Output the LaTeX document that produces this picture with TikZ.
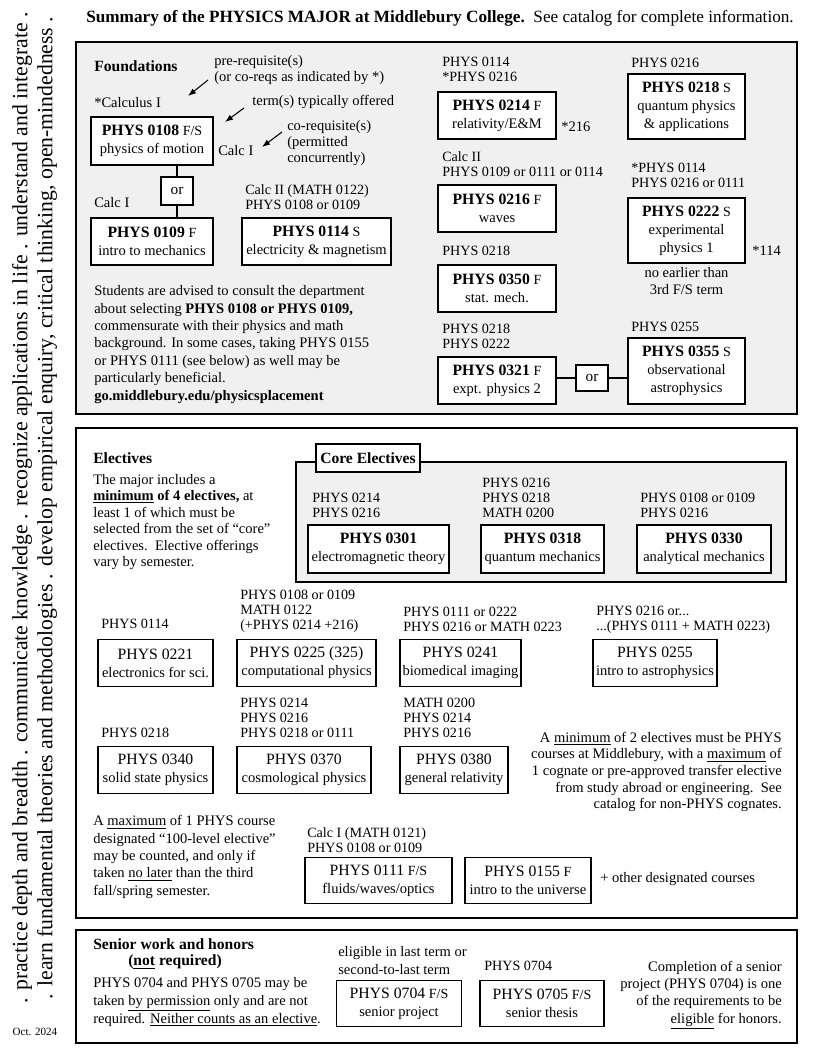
\documentclass[tikz,border=0pt]{standalone}
\usepackage{fontspec}
\setmainfont{Liberation Serif}
\usetikzlibrary{arrows.meta}
\definecolor{panelgray}{RGB}{240,240,240}
\newcommand{\bnum}[1]{{\fontsize{11.8}{13.5}\selectfont\textbf{#1}}}
\newcommand{\rnum}[1]{{\fontsize{11.8}{13.5}\selectfont #1}}
\newcommand{\term}[1]{{\fontsize{10.5}{13.5}\selectfont #1}}
\begin{document}
\begin{tikzpicture}[x=0.75pt,y=-0.75pt,
  txt/.style={font=\fontsize{10.9}{13}\selectfont,inner sep=0pt,align=left,anchor=west},
  pre/.style={font=\fontsize{10.6}{11.3}\selectfont,inner sep=0pt,align=left,anchor=west},
  fbox/.style={draw,line width=1.8pt,fill=white,align=center,inner sep=1pt,font=\fontsize{10.9}{13.5}\selectfont,minimum width=88.5pt,minimum height=35.25pt},
  ebox/.style={draw,line width=0.9pt,fill=white,align=center,inner sep=1pt,font=\fontsize{10.9}{13.5}\selectfont,minimum height=35pt},
  orbox/.style={draw,line width=0.9pt,fill=white,font=\fontsize{11.5}{13}\selectfont,minimum width=24pt,inner sep=0pt},
  head/.style={font=\fontsize{11.7}{14}\selectfont\bfseries,inner sep=0pt,anchor=west},
  note/.style={-{Latex[length=6pt,width=4.5pt]},line width=0.8pt}]
\useasboundingbox (0,0) rectangle (816,1056);

\node[font=\fontsize{12.9}{14}\selectfont,inner sep=0pt] (title) at (440,18) {\textbf{Summary of the PHYSICS MAJOR at Middlebury College.}\ \ See catalog for complete information.};
\node[rotate=90,font=\fontsize{16.3}{18}\selectfont,inner sep=0pt] (vals1) at (22,508) {. practice depth and breadth . communicate knowledge . recognize applications in life . understand and integrate .};
\node[rotate=90,font=\fontsize{16.3}{18}\selectfont,inner sep=0pt] (vals2) at (47,508) {. learn fundamental theories and methodologies . develop empirical enquiry, critical thinking, open-mindedness .};
\node[font=\fontsize{8.3}{9}\selectfont,inner sep=0pt] (date) at (35,1032) {Oct. 2024};

% foundations
\draw[line width=1pt,fill=panelgray] (76,42) rectangle (797,414);
\node[head] (fhead) at (94,66) {Foundations};
\node[txt,font=\fontsize{10.9}{12}\selectfont] (prelbl) at (214,70) {pre-requisite(s)\\(or co-reqs as indicated by *)};
\coordinate (preFrom) at (208,80); \coordinate (preTo) at (188,96);
\draw[note] (preFrom) -- (preTo);
\node[txt] (calc1a) at (94,103) {*Calculus I};
\node[txt] (termlbl) at (252,102) {term(s) typically offered};
\coordinate (termFrom) at (244,108); \coordinate (termTo) at (225,122);
\draw[note] (termFrom) -- (termTo);
\node[fbox,minimum width=91.5pt,minimum height=36pt] (f108) at (152,141) {\bnum{PHYS 0108} \term{F/S}\\physics of motion};
\node[txt] (calc1b) at (218,151) {Calc I};
\node[txt,font=\fontsize{10.9}{12.2}\selectfont] (colbl) at (287,143) {co-requisite(s)\\(permitted\\concurrently)};
\coordinate (coFrom) at (282,132); \coordinate (coTo) at (262,147);
\draw[note] (coFrom) -- (coTo);
\node[txt] (calc1c) at (94,203) {Calc I};
\node[fbox,minimum width=91.5pt] (f109) at (152,241.5) {\bnum{PHYS 0109} \term{F}\\intro to mechanics};
\node[orbox,minimum height=21pt] (orA) at (177,191) {or};
\draw[line width=0.9pt] (orA.north) -- (orA.north |- f108.south) (orA.south) -- (orA.south |- f109.north);
\node[pre] (p114) at (245,197) {Calc II (MATH 0122)\\PHYS 0108 or 0109};
\node[fbox,minimum width=111.75pt] (f114) at (316.5,241.5) {\bnum{PHYS 0114} \term{S}\\electricity \& magnetism};
\node[txt,font=\fontsize{10.9}{13.1}\selectfont] (advice) at (94,344.5) {Students are advised to consult the department\\about selecting \textbf{PHYS 0108 or PHYS 0109,}\\commensurate with their physics and math\\background. In some cases, taking PHYS 0155\\or PHYS 0111 (see below) as well may be\\particularly beneficial.\\\textbf{go.middlebury.edu/physicsplacement}};

\node[pre] (p214) at (442,69) {PHYS 0114\\*PHYS 0216};
\node[fbox] (f214) at (497,115.5) {\bnum{PHYS 0214} \term{F}\\relativity/E\&M};
\node[txt] (star216) at (561,127) {*216};
\node[pre] (p218) at (631,63) {PHYS 0216};
\node[fbox,minimum width=87.75pt,minimum height=48.75pt] (f218) at (686.5,106.5) {\bnum{PHYS 0218} \term{S}\\quantum physics\\\& applications};
\node[pre] (p216) at (442,164) {Calc II\\PHYS 0109 or 0111 or 0114};
\node[fbox] (f216) at (497,208.5) {\bnum{PHYS 0216} \term{F}\\waves};
\node[pre] (p222) at (631,175) {*PHYS 0114\\PHYS 0216 or 0111};
\node[fbox,minimum width=87.75pt,minimum height=48.75pt] (f222) at (686.5,230.5) {\bnum{PHYS 0222} \term{S}\\experimental\\physics 1};
\node[txt] (star114) at (752,251) {*114};
\node[txt,align=center,anchor=center] (earliest) at (686.5,281) {no earlier than\\3rd F/S term};
\node[pre] (p350) at (442,251) {PHYS 0218};
\node[fbox] (f350) at (497,288.5) {\bnum{PHYS 0350} \term{F}\\stat. mech.};
\node[pre] (p321) at (442,336.5) {PHYS 0218\\PHYS 0222};
\node[fbox] (f321) at (497,380.5) {\bnum{PHYS 0321} \term{F}\\expt. physics 2};
\node[pre] (p355) at (631,327) {PHYS 0255};
\node[fbox,minimum width=87.75pt,minimum height=49.5pt] (f355) at (686.5,371) {\bnum{PHYS 0355} \term{S}\\observational\\astrophysics};
\node[orbox,minimum height=19.5pt] (orB) at (592,378) {or};
\draw[line width=0.9pt] (f321.east |- orB) -- (orB.west) (orB.east) -- (orB -| f355.west);

% electives
\draw[line width=1pt] (76,428) rectangle (797,918);
\node[head] (ehead) at (93,458) {Electives};
\node[txt,font=\fontsize{10.9}{12.4}\selectfont] (epara) at (93,522) {The major includes a\\\textbf{\underline{minimum} of 4 electives,} at\\least 1 of which must be\\selected from the set of “core”\\electives.\ \ Elective offerings\\vary by semester.};
\draw[line width=1.8pt,fill=panelgray] (296,462) rectangle (786,582);
\node[draw,line width=1.8pt,fill=white,font=\fontsize{11.7}{14}\selectfont\bfseries,minimum width=78pt,minimum height=21pt,inner sep=1pt] (corelbl) at (368,458) {Core Electives};
\node[pre] (p301) at (312,505.5) {PHYS 0214\\PHYS 0216};
\node[pre] (p318) at (482,498) {PHYS 0216\\PHYS 0218\\MATH 0200};
\node[pre] (p330) at (640,505.5) {PHYS 0108 or 0109\\PHYS 0216};
\node[ebox,minimum width=105.75pt,minimum height=36pt] (c301) at (378.5,549) {\bnum{PHYS 0301}\\electromagnetic theory};
\node[ebox,minimum width=92.25pt,minimum height=36pt] (c318) at (542.5,549) {\bnum{PHYS 0318}\\quantum mechanics};
\node[ebox,minimum width=100.5pt,minimum height=36pt] (c330) at (704,549) {\bnum{PHYS 0330}\\analytical mechanics};

\node[pre] (p221) at (101,624) {PHYS 0114};
\node[pre] (p225) at (240,611) {PHYS 0108 or 0109\\MATH 0122\\(+PHYS 0214 +216)};
\node[pre] (p241) at (403,619.5) {PHYS 0111 or 0222\\PHYS 0216 or MATH 0223};
\node[pre] (p255) at (596,619.5) {PHYS 0216 or...\\...(PHYS 0111 + MATH 0223)};
\node[ebox,minimum width=86.25pt] (e221) at (155.5,663) {\rnum{PHYS 0221}\\electronics for sci.};
\node[ebox,minimum width=104.25pt] (e225) at (306.5,663) {\rnum{PHYS 0225 (325)}\\computational physics};
\node[ebox,minimum width=90.75pt] (e241) at (460.5,663) {\rnum{PHYS 0241}\\biomedical imaging};
\node[ebox,minimum width=93pt] (e255) at (655,663) {\rnum{PHYS 0255}\\intro to astrophysics};

\node[pre] (p340) at (101,733) {PHYS 0218};
\node[pre] (p370) at (240,718) {PHYS 0214\\PHYS 0216\\PHYS 0218 or 0111};
\node[pre] (p380) at (403,718) {MATH 0200\\PHYS 0214\\PHYS 0216};
\node[ebox,minimum width=86.25pt] (e340) at (155.5,770) {\rnum{PHYS 0340}\\solid state physics};
\node[ebox,minimum width=100.5pt] (e370) at (304,770) {\rnum{PHYS 0370}\\cosmological physics};
\node[ebox,minimum width=81pt] (e380) at (454,770) {\rnum{PHYS 0380}\\general relativity};
\node[txt,align=right,anchor=east,font=\fontsize{10.9}{12.5}\selectfont] (transfer) at (782,772) {A \underline{minimum} of 2 electives must be PHYS\\courses at Middlebury, with a \underline{maximum} of\\1 cognate or pre-approved transfer elective\\from study abroad or engineering.\ \ See\\catalog for non-PHYS cognates.};

\node[txt,font=\fontsize{10.9}{13}\selectfont] (cap100) at (93,857) {A \underline{maximum} of 1 PHYS course\\designated “100-level elective”\\may be counted, and only if\\taken \underline{no later} than the third\\fall/spring semester.};
\node[pre] (p111) at (307,840) {Calc I (MATH 0121)\\PHYS 0108 or 0109};
\node[ebox,minimum width=110.25pt] (e111) at (378.5,880.5) {\rnum{PHYS 0111} \term{F/S}\\fluids/waves/optics};
\node[ebox,minimum width=94.5pt] (e155) at (528,880.5) {\rnum{PHYS 0155} \term{F}\\intro to the universe};
\node[txt] (others) at (600,879) {+ other designated courses};

% senior work
\draw[line width=1pt] (76,930) rectangle (797,1043);
\node[head] (shead) at (93,944) {Senior work and honors};
\node[font=\fontsize{11.7}{14}\selectfont\bfseries,inner sep=0pt] (notreq) at (175,962) {(\underline{not} required)};
\node[txt,font=\fontsize{10.9}{13.2}\selectfont] (spara) at (93,1002) {PHYS 0704 and PHYS 0705 may be\\taken \underline{by permission} only and are not\\required. \underline{Neither counts as an elective}.};
\node[pre,font=\fontsize{10.9}{13}\selectfont] (p704) at (338,960.5) {eligible in last term or\\second-to-last term};
\node[pre] (p705) at (484,966) {PHYS 0704};
\node[ebox,minimum width=93.75pt,minimum height=34.5pt] (s704) at (399,1003.5) {\rnum{PHYS 0704} \term{F/S}\\senior project};
\node[ebox,minimum width=93pt,minimum height=34.5pt] (s705) at (542,1003.5) {\rnum{PHYS 0705} \term{F/S}\\senior thesis};
\node[txt,align=right,anchor=east,font=\fontsize{10.9}{13}\selectfont] (honors) at (782,995) {Completion of a senior\\project (PHYS 0704) is one\\of the requirements to be\\\underline{eligible} for honors.};
\end{tikzpicture}
\end{document}
